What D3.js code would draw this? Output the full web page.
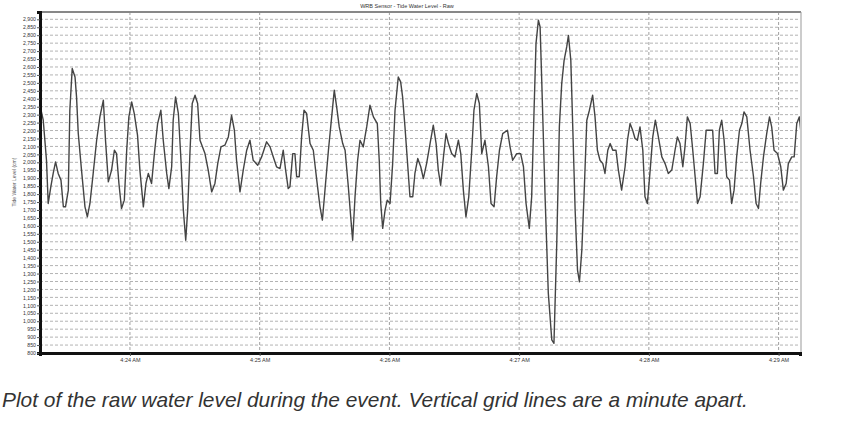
<!doctype html>
<html>
  <head>
    <script src="https://cdnjs.cloudflare.com/ajax/libs/d3/7.8.5/d3.min.js"></script>
    <style>
      body { margin: 0; background: #fff; }
      svg { display: block; font-family: "Liberation Sans", Arial, sans-serif; }
    </style>
  </head>
  <body>
    <svg></svg>
    <script>
      var width = 841,
          height = 426;

      // seconds after 4:23:00 AM
      var seconds = [18.4,19.9,21.4,22.2,23.4,24.5,25.6,26.8,28.1,29.2,30.2,31.5,32.2,33.3,34.6,35.3,36.1,37.6,39.2,40.3,
        41.5,43.0,44.6,46.1,47.7,48.7,50.0,51.5,52.8,53.8,54.9,56.1,57.4,58.5,59.5,60.8,62.0,63.5,64.6,66.2,
        67.4,68.5,70.0,71.3,72.8,74.3,75.4,77.0,78.0,79.3,80.0,81.1,82.4,83.6,84.7,85.8,86.7,87.8,88.8,90.1,
        91.3,92.4,94.7,96.2,97.8,99.3,100.6,102.1,103.9,105.5,107.0,108.3,109.3,110.9,112.4,114.0,115.5,117.0,119.1,120.9,
        123.2,124.8,126.3,127.8,129.4,130.9,132.0,133.2,
        134.0,135.3,136.3,137.1,138.3,139.4,140.5,141.7,143.3,144.8,146.4,147.9,149.0,150.2,151.8,153.3,154.5,155.6,156.8,158.4,
        159.5,161.0,162.1,163.0,164.1,165.3,166.4,167.9,169.5,171.0,172.6,174.4,175.3,176.0,176.9,178.0,179.0,180.3,181.5,182.6,
        184.1,185.2,186.1,187.2,188.3,189.5,190.8,191.8,193.1,194.5,195.7,197.2,198.8,200.3,201.6,202.6,203.7,205.0,206.2,207.3,
        208.8,210.3,211.9,213.0,214.2,215.4,216.7,218.1,219.1,220.4,221.6,222.7,224.2,225.8,227.0,228.4,229.6,230.9,232.4,234.6,
        235.8,237.0,238.9,240.7,242.0,243.2,244.7,245.8,246.9,247.8,248.9,
        249.7,250.4,252.0,253.5,255.1,256.1,257.4,258.6,259.7,260.8,262.0,262.8,263.9,264.8,265.9,267.0,267.9,269.0,270.0,271.3,
        272.5,274.0,275.1,276.2,277.4,278.7,279.7,281.0,282.1,283.3,284.8,285.9,287.4,289.0,290.1,291.3,292.5,293.6,294.7,295.9,
        297.2,298.2,299.3,300.6,301.8,303.0,304.4,306.0,307.5,309.0,310.6,312.1,313.2,314.4,315.7,316.7,317.8,319.1,320.3,321.4,
        322.5,323.7,325.2,326.5,328.3,329.5,330.6,331.7,332.6,333.7,334.8,336.0,337.3,338.3,339.4,340.6,341.9,343.0,344.0,345.3,
        346.8,348.4,349.6,350.7,351.7,353.0,354.5,355.8,356.8,357.9,359.5,361.0,362.2,363.5,364.5,366.1,367.2,368.4,369.6,370.7];

      // raw water level (cm)
      var level = [2359,2265,2013,1741,1846,1930,2003,1930,1888,1720,1720,1825,2328,2590,2537,2412,2181,1951,1720,1657,
        1741,1930,2139,2286,2391,2139,1877,1951,2076,2055,1867,1709,1762,2076,2286,2380,2307,2171,1951,1720,
        1867,1930,1867,2055,2244,2328,2139,1930,1835,1972,2265,2412,2307,2013,1699,1510,1699,2076,2370,2422,
        2370,2139,2055,1951,1814,1867,1992,2097,2108,2160,2296,2202,2013,1814,1951,2076,2139,2013,1982,2034,
        2129,2097,2034,1972,1961,2076,1951,1835,
        1846,2055,2055,1909,1909,2160,2328,2307,2118,2076,1888,1720,1636,1825,2076,2286,2454,2349,2223,2118,
        2076,1846,1657,1510,1783,2013,2139,2097,2223,2359,2286,2244,2013,1741,1584,1699,1762,1741,1992,2328,
        2537,2506,2412,2223,2013,1783,1783,1930,2024,1972,1898,1992,2118,2234,2118,1951,1856,2034,2181,2118,
        2055,2034,2139,2055,1825,1657,1783,2076,2328,2433,2370,2055,2139,1972,1741,1720,1909,2076,2181,2202,
        2097,2013,2055,2055,1972,1741,1584,1783,2328,2747,2894,
        2852,2537,1783,1175,882,861,1489,2223,2496,2642,2726,2799,2642,2223,1699,1322,1248,1448,1783,2265,
        2328,2422,2286,2076,2013,1992,1930,2076,2118,2076,2076,1951,1825,1972,2139,2244,2202,2150,2139,2223,
        2076,1783,1741,1951,2160,2265,2160,2034,1992,1930,1951,2076,2160,2118,1972,2097,2286,2244,2076,1909,
        1741,1783,1992,2202,2202,2202,1930,1930,2202,2265,2139,1909,1888,1741,1825,2034,2202,2244,2317,2286,
        2076,1909,1741,1709,1867,2034,2181,2286,2223,2076,2055,1972,1825,1867,1992,2034,2034,2244,2286,2139];

      var yTicks = d3.range(800, 2901, 50);
      var xTickMinutes = [24, 25, 26, 27, 28, 29];
      var titleText = "WRB Sensor - Tide Water Level - Raw";
      var yTitle = "Tide Water Level (cm)";
      var caption = "Plot of the raw water level during the event. Vertical grid lines are a minute apart.";

      var base = new Date(2000, 0, 1, 4, 23, 0);
      var t = s => new Date(base.getTime() + s * 1000);
      var data = seconds.map((s, i) => ({ time: t(s), v: level[i] }));

      var plotLeft = 40, plotRight = 800, plotTop = 12, plotBottom = 353;

      var x = d3.scaleTime()
          .domain([t(18.4), t(369.9)])
          .range([plotLeft, plotRight]);
      var y = d3.scaleLinear()
          .domain([800, 2946])
          .range([plotBottom, plotTop]);

      var svg = d3.select("svg").attr("width", width).attr("height", height);

      svg.append("defs").append("clipPath").attr("id", "plot")
        .append("rect").attr("x", plotLeft).attr("y", plotTop)
          .attr("width", plotRight - plotLeft).attr("height", plotBottom - plotTop);

      // grid lines
      svg.append("g").selectAll("line").data(yTicks.filter(d => d > 800))
        .enter().append("line")
          .attr("x1", plotLeft).attr("x2", plotRight)
          .attr("y1", d => y(d)).attr("y2", d => y(d))
          .style("stroke", "#b3b3b3").style("stroke-width", 1)
          .style("stroke-dasharray", "3,2");

      var xTicks = xTickMinutes.map(m => new Date(2000, 0, 1, 4, m, 0));
      svg.append("g").selectAll("line").data(xTicks)
        .enter().append("line")
          .attr("x1", d => x(d)).attr("x2", d => x(d))
          .attr("y1", plotTop).attr("y2", plotBottom)
          .style("stroke", "#a0a0a0").style("stroke-width", 1)
          .style("stroke-dasharray", "3,2");

      // frame
      svg.append("line").attr("x1", plotLeft).attr("x2", plotRight + 1).attr("y1", plotTop).attr("y2", plotTop)
        .style("stroke", "#888").style("stroke-width", 2);
      svg.append("line").attr("x1", plotRight + 1).attr("x2", plotRight + 1).attr("y1", plotTop).attr("y2", plotBottom)
        .style("stroke", "#999").style("stroke-width", 1);

      // water level line
      var line = d3.line().x(d => x(d.time)).y(d => y(d.v));
      svg.append("path").datum(data)
        .attr("clip-path", "url(#plot)")
        .attr("d", line)
        .style("fill", "none")
        .style("stroke", "#444")
        .style("stroke-width", 1.4)
        .style("stroke-linejoin", "round");

      // axes
      var yAxis = d3.axisLeft(y).tickValues(yTicks).tickSize(3).tickFormat(d3.format(","));
      var gy = svg.append("g").attr("transform", "translate(" + plotLeft + ",0)").call(yAxis);
      gy.select(".domain").style("stroke", "#111").style("stroke-width", 3);
      gy.selectAll(".tick line").style("stroke", "#555");
      gy.selectAll(".tick text").attr("x", -4).style("font-size", "5.2px").style("fill", "#333")
        .style("font-family", "'Liberation Sans', Arial, sans-serif");

      var xAxis = d3.axisBottom(x).tickValues(xTicks).tickSize(3).tickFormat(d3.timeFormat("%-I:%M %p"));
      var gx = svg.append("g").attr("transform", "translate(0," + plotBottom + ")").call(xAxis);
      gx.select(".domain").style("stroke", "#111").style("stroke-width", 3);
      gx.selectAll(".tick line").style("stroke", "#555");
      gx.selectAll(".tick text").attr("y", 5).style("font-size", "5.5px").style("fill", "#333")
        .style("font-family", "'Liberation Sans', Arial, sans-serif");

      // titles
      svg.append("text").attr("x", 407).attr("y", 8).attr("text-anchor", "middle")
        .style("font-size", "5.5px").style("fill", "#333").text(titleText);
      svg.append("text").attr("transform", "translate(16,182) rotate(-90)").attr("text-anchor", "middle")
        .style("font-size", "5px").style("fill", "#555").text(yTitle);

      // caption
      svg.append("text").attr("x", 2).attr("y", 406.5)
        .style("font-size", "20.9px").style("font-style", "italic").style("fill", "#333")
        .text(caption);
    </script>
  </body>
</html>
